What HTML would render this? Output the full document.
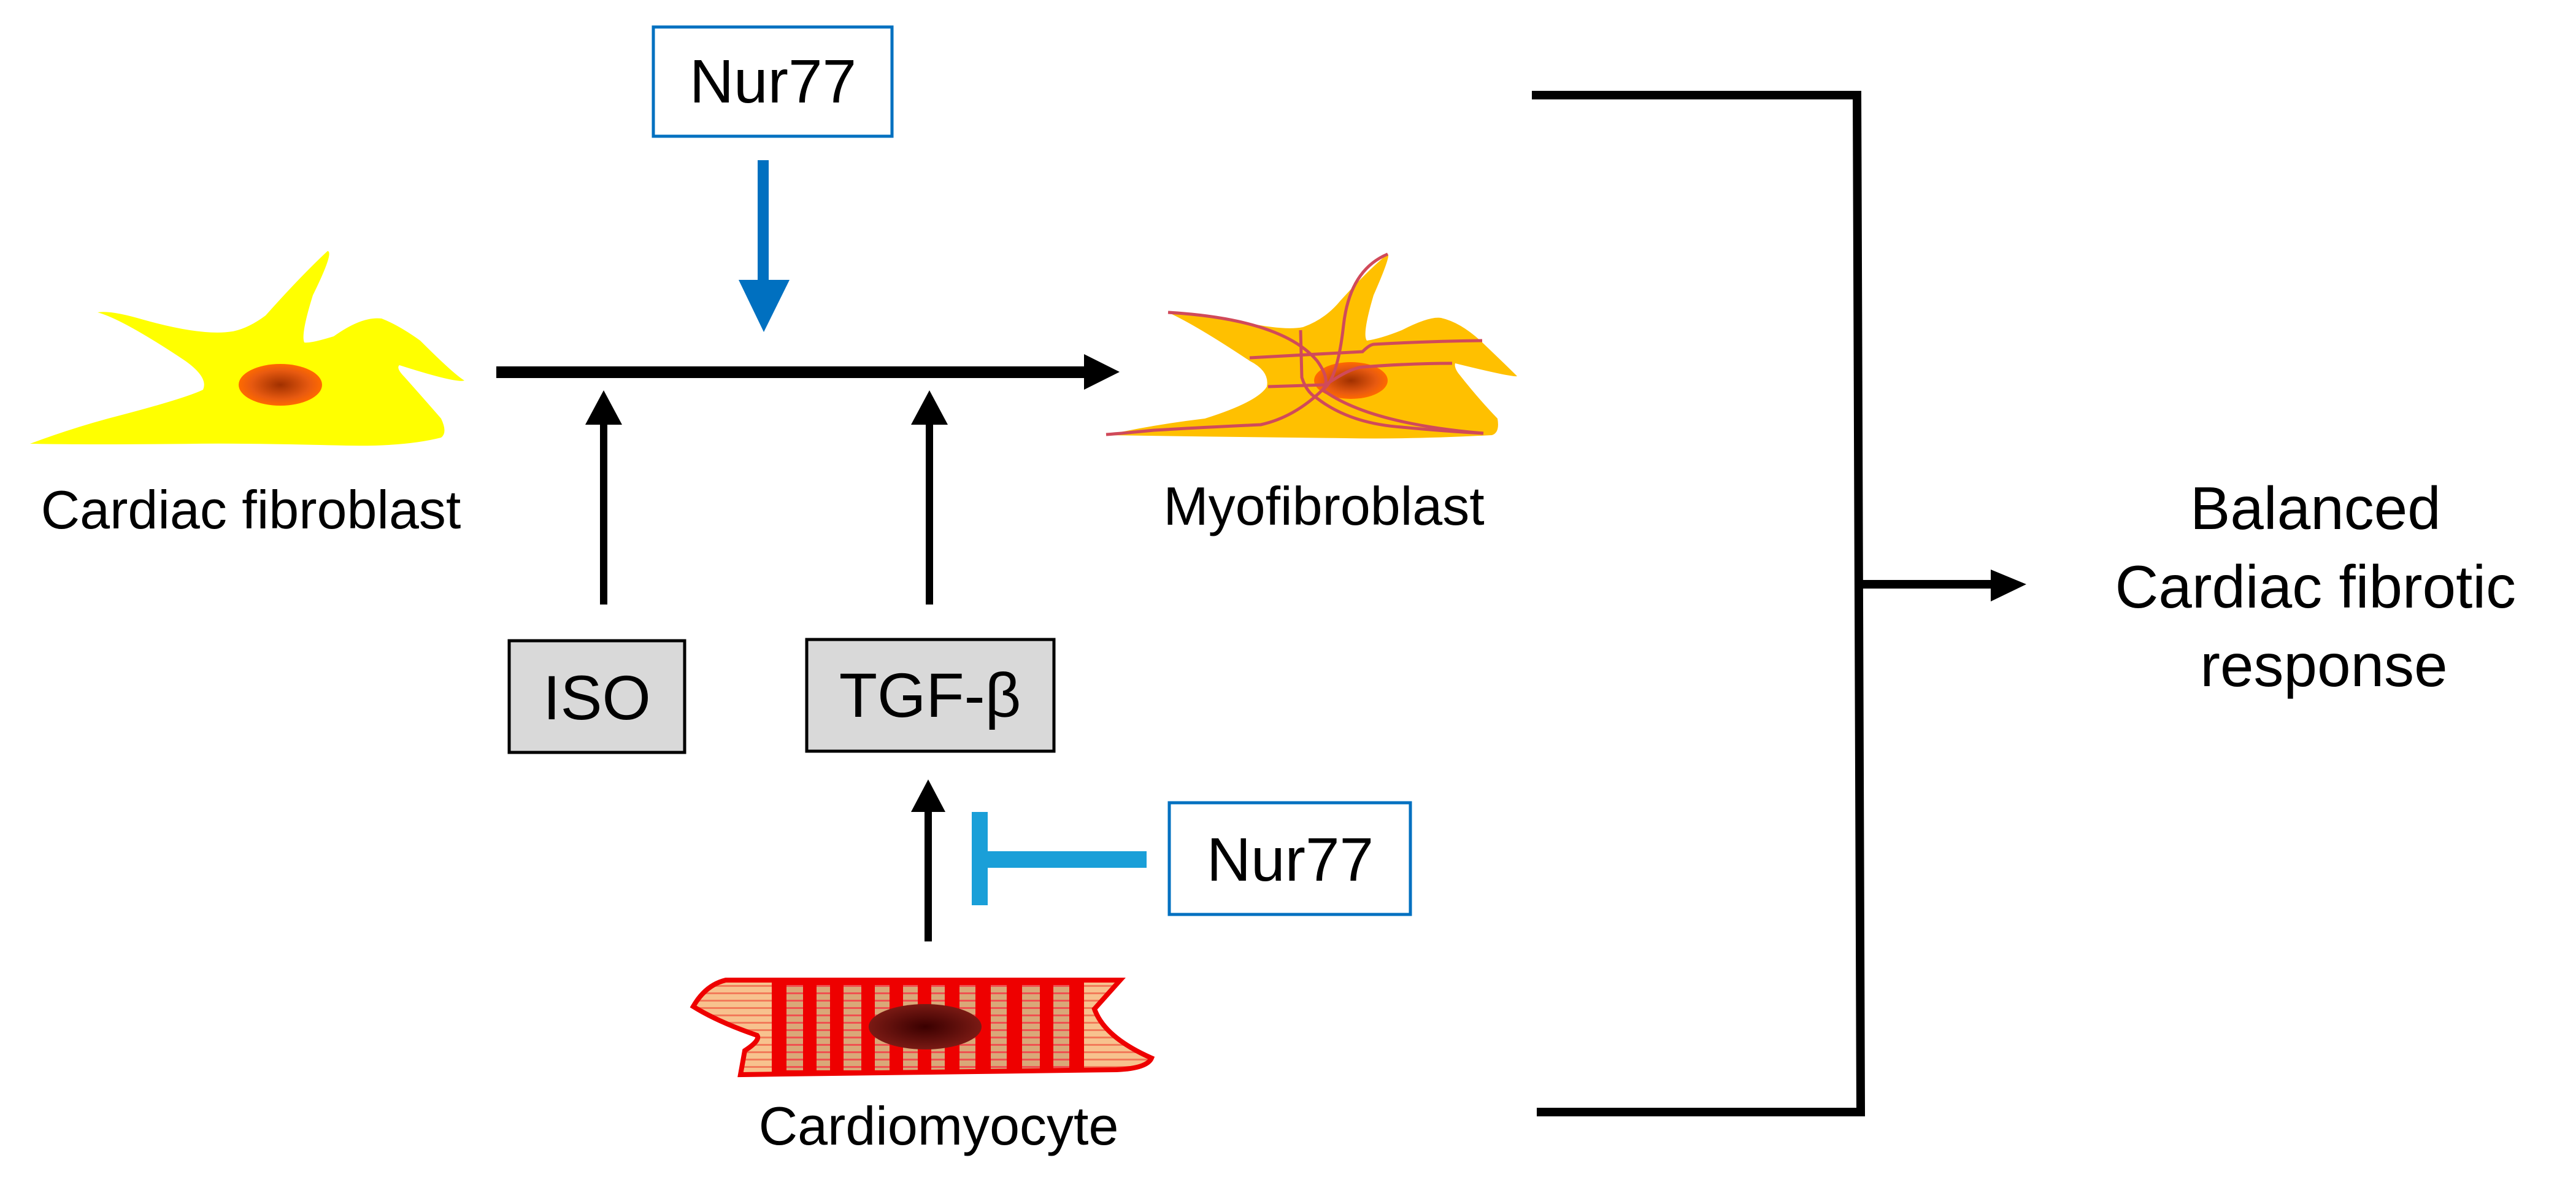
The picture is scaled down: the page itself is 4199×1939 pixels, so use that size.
<!DOCTYPE html>
<html><head><meta charset="utf-8"><style>
html,body{margin:0;padding:0;background:#fff;}
svg{display:block;}
text{font-family:"Liberation Sans",sans-serif;fill:#000;}
</style></head><body>
<svg width="4199" height="1939" viewBox="0 0 4199 1939" xmlns="http://www.w3.org/2000/svg">
<defs>
<radialGradient id="nuc1"><stop offset="0" stop-color="#a03000"/><stop offset="0.7" stop-color="#e85a10"/><stop offset="1" stop-color="#ff6a00"/></radialGradient>
<radialGradient id="nuc2"><stop offset="0" stop-color="#3a0000"/><stop offset="1" stop-color="#7a1a14"/></radialGradient>
<clipPath id="cmclip"><path d="M1183,1597 L1826,1597 L1784,1644 Q1800,1690 1877,1724 Q1870,1741 1820,1743 L1207,1751 L1214,1712 Q1240,1695 1234,1687 Q1170,1665 1130,1640 Q1150,1605 1183,1597 Z"/></clipPath>
<pattern id="hstripe" width="20" height="12" patternUnits="userSpaceOnUse"><rect width="20" height="12" fill="#f7c28e"/><rect y="9" width="20" height="3" fill="#f27a5a"/></pattern>
<pattern id="hstripe2" width="20" height="12" patternUnits="userSpaceOnUse"><rect width="20" height="12" fill="#d9a878"/><rect y="9" width="20" height="3" fill="#f05050"/></pattern>
</defs>

<!-- Cardiac fibroblast -->
<path d="M49,723 Q110,700 176,682 Q300,650 331,635 Q340,615 302,588 Q200,520 159,509 Q180,505 234,521 Q330,548 379,540 Q405,535 433,514 Q490,450 534,409 Q545,410 510,481 Q490,545 496,558 Q505,560 544,548 Q590,515 622,519 Q650,530 685,555 Q740,610 757,620 Q745,625 651,595 Q645,600 660,615 Q700,660 719,682 Q730,705 719,713 Q660,728 564,726 Q400,722 321,723 Q150,725 49,723 Z" fill="#ffff00"/>
<ellipse cx="457" cy="627" rx="68" ry="34" fill="url(#nuc1)"/>
<text x="409" y="861" font-size="88" text-anchor="middle">Cardiac fibroblast</text>

<!-- Myofibroblast -->
<path d="M1803,709 Q1880,692 1964,682 Q2050,655 2065,630 Q2070,605 2037,588 Q1950,530 1904,509 Q1960,510 2010,521 Q2090,540 2124,533 Q2160,520 2184,491 Q2230,440 2262,414 Q2268,415 2239,481 Q2220,545 2228,555 Q2250,552 2285,538 Q2330,515 2349,518 Q2380,525 2413,555 Q2455,595 2473,613 Q2465,615 2372,592 Q2370,598 2377,608 Q2410,650 2441,682 Q2445,705 2432,709 Q2300,716 2193,714 Q2000,712 1803,709 Z" fill="#ffc000"/>
<ellipse cx="2202" cy="620" rx="60" ry="30" fill="url(#nuc1)"/>
<g fill="none" stroke="#d04a5a" stroke-width="5">
<path d="M1904,509 Q2090,520 2147,588 Q2170,620 2156,635 Q2230,690 2418,706"/>
<path d="M2262,414 Q2200,440 2190,530 Q2180,620 2156,635 Q2110,680 2055,692 Q1950,697 1881,701 Q1830,706 1803,708"/>
<path d="M2120,538 L2122,615 Q2130,640 2147,649 Q2200,690 2285,696 Q2360,703 2418,706"/>
<path d="M2037,583 L2221,573 Q2232,562 2239,561 Q2330,556 2416,555"/>
<path d="M2067,630 L2161,627 Q2200,600 2221,598 Q2300,592 2367,592"/>
</g>
<text x="2158" y="855" font-size="88" text-anchor="middle">Myofibroblast</text>

<!-- Main horizontal arrow -->
<rect x="809" y="597" width="960" height="19" fill="#000"/>
<polygon points="1767,577 1825,606 1767,635" fill="#000"/>

<!-- Nur77 top -->
<rect x="1065" y="44" width="389" height="178" fill="#fff" stroke="#0070c0" stroke-width="5"/>
<text x="1260" y="167" font-size="100" text-anchor="middle">Nur77</text>
<rect x="1235" y="261" width="18" height="200" fill="#0070c0"/>
<polygon points="1204,456 1287,456 1245,541" fill="#0070c0"/>

<!-- Up arrows -->
<rect x="978" y="688" width="12" height="297" fill="#000"/>
<polygon points="954,692 1014,692 984,636" fill="#000"/>
<rect x="1509" y="688" width="12" height="297" fill="#000"/>
<polygon points="1485,692 1545,692 1515,636" fill="#000"/>

<!-- ISO / TGF boxes -->
<rect x="830" y="1044" width="286" height="182" fill="#d9d9d9" stroke="#000" stroke-width="5"/>
<text x="973" y="1172" font-size="102" text-anchor="middle">ISO</text>
<rect x="1315" y="1042" width="403" height="182" fill="#d9d9d9" stroke="#000" stroke-width="5"/>
<text x="1516" y="1168" font-size="102" text-anchor="middle">TGF-β</text>

<!-- Lower arrow -->
<rect x="1507" y="1318" width="12" height="216" fill="#000"/>
<polygon points="1485,1323 1541,1323 1513,1270" fill="#000"/>

<!-- Inhibition T -->
<rect x="1584" y="1323" width="26" height="152" fill="#1a9fd8"/>
<rect x="1610" y="1387" width="259" height="27" fill="#1a9fd8"/>
<rect x="1906" y="1308" width="393" height="182" fill="#fff" stroke="#0070c0" stroke-width="5"/>
<text x="2103" y="1435" font-size="100" text-anchor="middle">Nur77</text>

<!-- Cardiomyocyte -->
<g clip-path="url(#cmclip)">
<rect x="1120" y="1590" width="770" height="170" fill="url(#hstripe)"/>
<rect x="1258" y="1590" width="509" height="170" fill="#ee0000"/>
<g fill="url(#hstripe2)">
<rect x="1282" y="1605" width="27" height="139"/>
<rect x="1331" y="1605" width="22" height="139"/>
<rect x="1375" y="1605" width="29" height="139"/>
<rect x="1426" y="1605" width="24" height="139"/>
<rect x="1472" y="1605" width="24" height="139"/>
<rect x="1518" y="1605" width="22" height="139"/>
<rect x="1564" y="1605" width="26" height="139"/>
<rect x="1615" y="1605" width="26" height="139"/>
<rect x="1666" y="1605" width="29" height="139"/>
<rect x="1717" y="1605" width="26" height="139"/>
</g>
</g>
<path d="M1183,1597 L1826,1597 L1784,1644 Q1800,1690 1877,1724 Q1870,1741 1820,1743 L1207,1751 L1214,1712 Q1240,1695 1234,1687 Q1170,1665 1130,1640 Q1150,1605 1183,1597 Z" fill="none" stroke="#ee0000" stroke-width="8"/>
<ellipse cx="1508" cy="1673" rx="92" ry="37" fill="url(#nuc2)"/>
<text x="1530" y="1865" font-size="88" text-anchor="middle">Cardiomyocyte</text>

<!-- Bracket -->
<g fill="none" stroke="#000" stroke-width="14">
<polyline points="2497,155 3027,155 3033,1812 2505,1812"/>
<line x1="3030" y1="952" x2="3250" y2="952"/>
</g>
<polygon points="3245,928 3303,952 3245,980" fill="#000"/>

<text font-size="98" text-anchor="middle">
<tspan x="3788" y="862">Balanced</tspan>
<tspan x="3788" y="990">Cardiac fibrotic</tspan>
<tspan x="3788" y="1118">response</tspan>
</text>
</svg>
</body></html>
